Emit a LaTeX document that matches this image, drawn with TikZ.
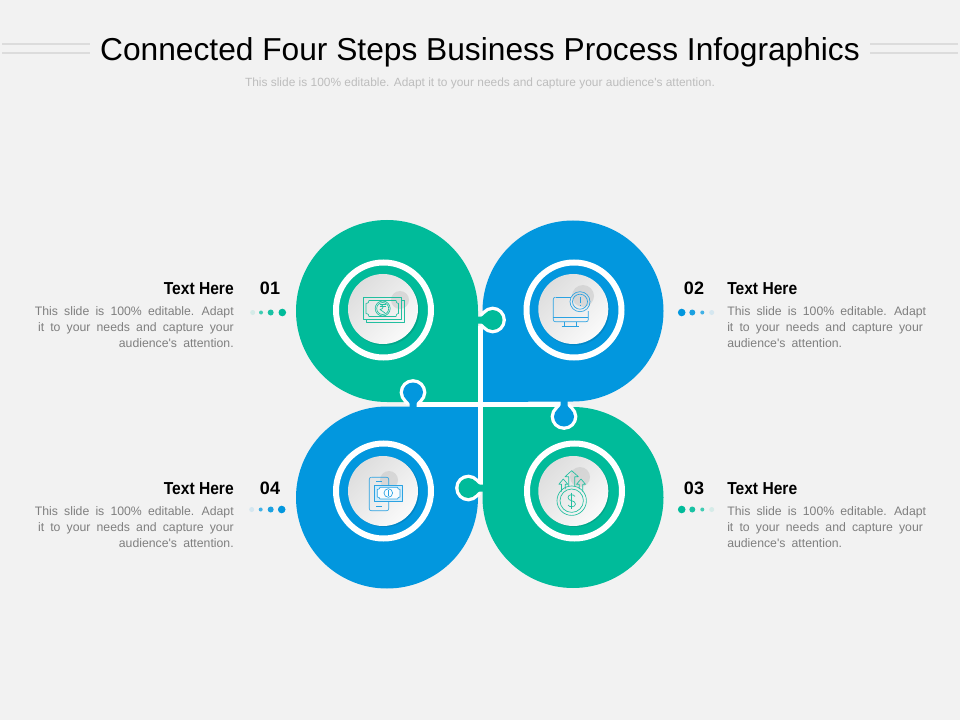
\documentclass[tikz,border=0pt]{standalone}
\usepackage{fontspec}
\setmainfont{Liberation Sans}
\newfontfamily\narrowfont[FakeStretch=0.9]{Liberation Sans}
\newfontfamily\bodyfont[WordSpace=1.8]{Liberation Sans}
\definecolor{pagegray}{HTML}{F2F2F2}
\definecolor{puzzlegreen}{HTML}{00BB9A}
\definecolor{puzzleblue}{HTML}{0297DE}
\definecolor{icongreen}{HTML}{22BFA0}
\definecolor{iconblue}{HTML}{2BA2E2}
\definecolor{bodygray}{HTML}{7F7F7F}
\definecolor{subgray}{HTML}{BDBDBD}
\definecolor{rulegray}{HTML}{DCDCDC}
\tikzset{
	titlerule/.style={draw=rulegray, line width=1.7pt},
	gapline/.style={draw=white, line width=3.4pt},
	ringline/.style={draw=white, line width=4.5pt},
	discfill/.style={top color=black!13, bottom color=black!2, shading angle=45},
	discshadow/.style={fill=black, fill opacity=0.10},
	spotfill/.style={fill=black!22, fill opacity=0.55},
	iconline/.style={draw=#1, line width=0.5pt, line join=round},
	headtext/.style={anchor=east, inner sep=0pt, font=\narrowfont\bfseries\fontsize{13}{15}\selectfont},
	numtext/.style={anchor=center, inner sep=0pt, font=\bfseries\fontsize{13.5}{15}\selectfont},
	bodytext/.style={inner sep=0pt, text=bodygray, font=\bodyfont\fontsize{9.2}{12}\selectfont},
	tabpiece/.pic={
		\fill[fill=white] (-9.5,-1) -- (9.5,-1) -- (4,-7) -- (-4,-7) -- cycle;
		\draw[draw=white, line width=5pt] (-3.5,0) -- (-3.5,-1) .. controls (-3.5,-3) and (-10,-6) .. (-10,-12) arc[start angle=180, end angle=360, radius=10] .. controls (10,-6) and (3.5,-3) .. (3.5,-1) -- (3.5,0);
		\fill[fill=#1] (-3.5,4) -- (-3.5,-1) .. controls (-3.5,-3) and (-10,-6) .. (-10,-12) arc[start angle=180, end angle=360, radius=10] .. controls (10,-6) and (3.5,-3) .. (3.5,-1) -- (3.5,4) -- cycle;
	}
}
\begin{document}
\begin{tikzpicture}[x=0.75pt, y=-0.75pt]
	\useasboundingbox (0,0) rectangle (960,720);
	\fill[pagegray] (0,0) rectangle (960,720);
	\draw[titlerule] (2,44) -- (90,44);
	\draw[titlerule] (2,53) -- (90,53);
	\draw[titlerule] (870,44) -- (958,44);
	\draw[titlerule] (870,53) -- (958,53);
	\node[anchor=center, inner sep=0pt, font=\fontsize{23.78}{27}\selectfont] (maintitle) at (480,52) {Connected Four Steps Business Process Infographics};
	\node[anchor=center, inner sep=0pt, text=subgray, font=\fontsize{8.94}{10}\selectfont] (subtitle) at (480,83) {This slide is 100\% editable. Adapt it to your needs and capture your audience\textquotesingle s attention.};
	\fill[puzzlegreen] (478,402) -- (387,402) arc[start angle=90, end angle=360, radius=91] -- cycle;
	\fill[puzzleblue] (483,402) -- (482.5,311) arc[start angle=180, end angle=450, radius=90.5] -- cycle;
	\fill[puzzleblue] (478,407) -- (478,497.5) arc[start angle=0, end angle=270, radius=91] -- cycle;
	\fill[puzzlegreen] (483,407) -- (573,407) arc[start angle=-90, end angle=180, radius=90.5] -- cycle;
	\draw[gapline] (480.5,326) -- (480.5,486);
	\draw[gapline] (416,404.5) -- (562,404.5);
	\pic[rotate=0] at (413,404.5) {tabpiece=puzzleblue};
	\pic[rotate=-90] at (480.5,320) {tabpiece=puzzlegreen};
	\pic[rotate=180] at (564,404.5) {tabpiece=puzzleblue};
	\pic[rotate=90] at (480.5,488) {tabpiece=puzzlegreen};
	\draw[ringline] (383.5,310) circle[radius=47.5];
	\draw[ringline] (574,310) circle[radius=47.5];
	\draw[ringline] (383.5,491) circle[radius=47.5];
	\draw[ringline] (574.5,491) circle[radius=47.5];
	\fill[discshadow] (384.5,310.5) circle[radius=35];
	\fill[discshadow] (574.5,310.5) circle[radius=35];
	\fill[discshadow] (384.5,492) circle[radius=35];
	\fill[discshadow] (574.5,492) circle[radius=35];
	\shade[discfill] (383,309) circle[radius=35];
	\shade[discfill] (573.3,309) circle[radius=35];
	\shade[discfill] (383,491) circle[radius=35];
	\shade[discfill] (573.3,491) circle[radius=35];
	\fill[spotfill] (400,300) circle[radius=9];
	\fill[spotfill] (583,296) circle[radius=11];
	\fill[spotfill] (389,480) circle[radius=9];
	\fill[spotfill] (580,477) circle[radius=10];
	\draw[iconline=icongreen] (363,297.5) rectangle (401.5,319.5);
	\draw[iconline=icongreen] (404.7,300) -- (404.7,322.3) -- (366,322.3) -- (366,319.5);
	\draw[iconline=icongreen] (401.5,300) -- (404.7,300);
	\draw[iconline=icongreen] (369,300.5) -- (396,300.5) .. controls (396,302.5) and (397,303.5) .. (398.5,303.5) -- (398.5,313.5) .. controls (397,313.5) and (396,314.5) .. (396,316.5) -- (369,316.5) .. controls (369,314.5) and (368,313.5) .. (366,313.5) -- (366,303.5) .. controls (368,303.5) and (369,302.5) .. (369,300.5) -- cycle;
	\draw[iconline=icongreen] (382.7,308.5) circle[radius=7.5];
	\draw[iconline=icongreen] (382.7,308.5) circle[radius=6];
	\draw[iconline=icongreen] (379.5,304.5) -- (386,304.5);
	\draw[iconline=icongreen] (379.5,306.8) -- (386,306.8);
	\draw[iconline=icongreen] (380,304.5) .. controls (384,304.5) and (384,309.5) .. (380,309.5) -- (385,313);
	\draw[iconline=iconblue] (555.5,297.3) -- (571,297.3);
	\draw[iconline=iconblue] (555.5,297.3) .. controls (554,297.3) and (553.3,298) .. (553.3,299.5) -- (553.3,319.5) .. controls (553.3,321) and (554,321.7) .. (555.5,321.7) -- (586,321.7) .. controls (587.5,321.7) and (588.3,321) .. (588.3,319.5) -- (588.3,311);
	\draw[iconline=iconblue] (553.3,317.3) -- (588.3,317.3);
	\draw[iconline=iconblue] (564.3,321.7) -- (564.3,326.3);
	\draw[iconline=iconblue] (576,321.7) -- (576,326.3);
	\draw[iconline=iconblue] (561.7,326.3) -- (579.3,326.3);
	\draw[iconline=iconblue] (580,301.7) circle[radius=10];
	\draw[iconline=iconblue] (580,301.7) circle[radius=7.5];
	\draw[iconline=iconblue] (580,297.5) -- (580,303);
	\draw[iconline=iconblue] (580,304.8) -- (580,305.8);
	\draw[iconline=iconblue] (371.5,477.3) -- (386.5,477.3) .. controls (388,477.3) and (388.7,478) .. (388.7,479.5) -- (388.7,485);
	\draw[iconline=iconblue] (371.5,477.3) .. controls (370,477.3) and (369.3,478) .. (369.3,479.5) -- (369.3,508.5) .. controls (369.3,510) and (370,510.7) .. (371.5,510.7) -- (386.5,510.7) .. controls (388,510.7) and (388.7,510) .. (388.7,508.5) -- (388.7,501.7);
	\draw[iconline=iconblue] (376,481) -- (381.7,481);
	\draw[iconline=iconblue] (376,506.7) -- (381.7,506.7);
	\draw[iconline=iconblue, fill=iconblue!22] (374.3,485) rectangle (402.7,501.7);
	\draw[iconline=iconblue, fill=white!70!iconblue!10] (380,487.3) -- (397.5,487.3) .. controls (397.5,488.5) and (398.5,489.5) .. (400,489.5) -- (400,497) .. controls (398.5,497) and (397.5,498) .. (397.5,499) -- (380,499) .. controls (380,498) and (379,497) .. (377.3,497) -- (377.3,489.5) .. controls (379,489.5) and (380,488.5) .. (380,487.3) -- cycle;
	\draw[iconline=iconblue] (388.3,493) circle[radius=4.3];
	\draw[iconline=iconblue] (388.3,490) -- (388.3,496);
	\draw[iconline=icongreen] (571.7,500.7) circle[radius=14.7];
	\draw[iconline=icongreen] (571.7,500.7) circle[radius=11.7];
	\draw[iconline=icongreen] (575,496.5) .. controls (574,494) and (568,494) .. (568,497.5) .. controls (568,501.5) and (575.5,500) .. (575.5,504) .. controls (575.5,507.5) and (569,507.5) .. (568,505);
	\draw[iconline=icongreen] (571.7,492.5) -- (571.7,509);
	\draw[iconline=icongreen] (568.7,486.7) -- (568.7,476.7) -- (565,476.7) -- (571.7,470.7) -- (578.4,476.7) -- (574.7,476.7) -- (574.7,486.7);
	\draw[iconline=icongreen] (561.5,491.7) -- (561.5,484.3) -- (558.8,484.3) -- (563.3,479) -- (567.8,484.3) -- (565.2,484.3) -- (565.2,489);
	\draw[iconline=icongreen] (579.2,489) -- (579.2,484.3) -- (576.5,484.3) -- (581,479) -- (585.5,484.3) -- (582.8,484.3) -- (582.8,491.7);
	\node[headtext] (headone) at (234,289) {Text Here};
	\node[numtext] (numone) at (270,288) {01};
	\node[bodytext, anchor=east, align=right] (bodyone) at (234,327) {This slide is 100\% editable. Adapt\\it to your needs and capture your\\audience\textquotesingle s attention.};
	\node[headtext, anchor=west] (headtwo) at (727,289) {Text Here};
	\node[numtext] (numtwo) at (694,288) {02};
	\node[bodytext, anchor=west, align=left] (bodytwo) at (727,327) {This slide is 100\% editable. Adapt\\it to your needs and capture your\\audience\textquotesingle s attention.};
	\node[headtext, anchor=west] (headthree) at (727,489) {Text Here};
	\node[numtext] (numthree) at (694,488) {03};
	\node[bodytext, anchor=west, align=left] (bodythree) at (727,527) {This slide is 100\% editable. Adapt\\it to your needs and capture your\\audience\textquotesingle s attention.};
	\node[headtext] (headfour) at (234,489) {Text Here};
	\node[numtext] (numfour) at (270,488) {04};
	\node[bodytext, anchor=east, align=right] (bodyfour) at (234,527) {This slide is 100\% editable. Adapt\\it to your needs and capture your\\audience\textquotesingle s attention.};
	\fill[puzzlegreen!12!pagegray] (252.7,312.5) circle[radius=2.5];
	\fill[puzzlegreen!75!white] (261,312.5) circle[radius=2];
	\fill[puzzlegreen!90!white] (270.7,312.5) circle[radius=3];
	\fill[puzzlegreen] (282.3,312.5) circle[radius=3.8];
	\fill[puzzleblue] (681.7,312.5) circle[radius=3.8];
	\fill[puzzleblue!90!white] (692.3,312.5) circle[radius=3];
	\fill[puzzleblue!75!white] (702.3,312.5) circle[radius=2];
	\fill[puzzleblue!12!pagegray] (711.7,312.5) circle[radius=2.5];
	\fill[puzzlegreen] (681.7,509.5) circle[radius=3.8];
	\fill[puzzlegreen!90!white] (692.3,509.5) circle[radius=3];
	\fill[puzzlegreen!75!white] (702.3,509.5) circle[radius=2];
	\fill[puzzlegreen!12!pagegray] (711.7,509.5) circle[radius=2.5];
	\fill[puzzleblue!12!pagegray] (251.7,509.5) circle[radius=2.5];
	\fill[puzzleblue!75!white] (260.7,509.5) circle[radius=2];
	\fill[puzzleblue!90!white] (270.7,509.5) circle[radius=3];
	\fill[puzzleblue] (281.7,509.5) circle[radius=3.8];
\end{tikzpicture}
\end{document}
